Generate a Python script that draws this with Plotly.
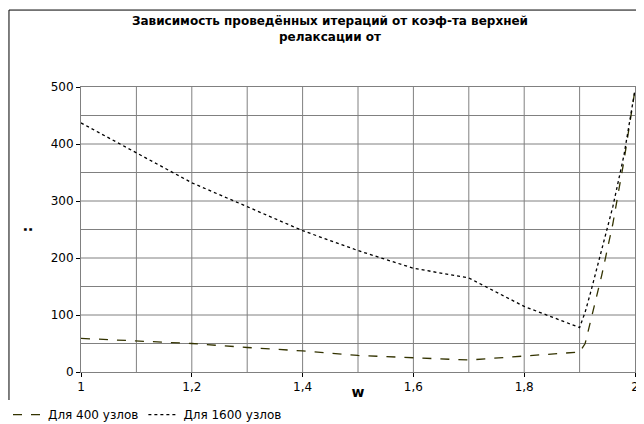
import plotly.graph_objects as go

x400 = [1.0, 1.1, 1.2, 1.3, 1.4, 1.5, 1.6, 1.7, 1.8, 1.9, 1.91, 1.92, 1.94, 1.96, 1.98, 2.0]
y400 = [59, 55, 50, 43, 37, 29, 25, 21, 28, 35, 50, 90, 170, 260, 370, 495]
x1600 = [1.0, 1.1, 1.2, 1.3, 1.4, 1.5, 1.6, 1.7, 1.8, 1.9, 1.91, 1.92, 1.94, 1.96, 1.98, 2.0]
y1600 = [437, 385, 332, 290, 248, 213, 182, 165, 115, 78, 105, 140, 215, 290, 380, 495]

fig = go.Figure()
fig.add_trace(go.Scatter(x=x400, y=y400, mode="lines", name="Для 400 узлов",
                         line=dict(color="#333300", width=1.3, dash="dash")))
fig.add_trace(go.Scatter(x=x1600, y=y1600, mode="lines", name="Для 1600 узлов",
                         line=dict(color="black", width=1.3, dash="dot")))

fig.update_layout(
    width=644, height=424, autosize=False, paper_bgcolor="white", plot_bgcolor="white",
    font=dict(family="DejaVu Sans", size=12, color="black"),
    title=dict(text="<b>Зависимость проведённых итераций от коэф-та верхней<br>релаксации от</b>",
               x=0.5, xanchor="center", yref="container", y=0.96, yanchor="top",
               font=dict(size=12)),
    margin=dict(l=73, r=17, t=79, b=60, autoexpand=False),
    showlegend=True,
    legend=dict(orientation="h", xref="container", x=0.0, yref="container", y=0.075,
                xanchor="left", yanchor="top", font=dict(size=12), tracegroupgap=0,
                itemwidth=30),
    xaxis=dict(range=[1, 2], tickvals=[1, 1.2, 1.4, 1.6, 1.8, 2],
               ticktext=["1", "1,2", "1,4", "1,6", "1,8", "2"],
               showgrid=False, showline=True, linecolor="gray", mirror=True,
               ticks="outside", ticklen=4, tickcolor="black", automargin=False,
               title=dict(text="<b>w</b>", standoff=8), zeroline=False),
    yaxis=dict(range=[0, 500], tickvals=[0, 100, 200, 300, 400, 500],
               showgrid=False, showline=True, linecolor="gray", mirror=True,
               ticks="outside", ticklen=4, tickcolor="black", automargin=False,
               title=dict(text="<b>:</b>", standoff=14), zeroline=False),
)
for v in range(50, 500, 50):
    fig.add_shape(type="line", xref="paper", yref="y", x0=0, x1=1, y0=v, y1=v,
                  line=dict(color="gray", width=1), layer="below")
for i in range(1, 10):
    fig.add_shape(type="line", xref="x", yref="paper", x0=1 + i / 10, x1=1 + i / 10, y0=0, y1=1,
                  line=dict(color="gray", width=1), layer="below")
fig.add_shape(type="rect", xref="paper", yref="paper", x0=-0.13, x1=1.028, y0=-0.215, y1=1.27,
              line=dict(color="black", width=1))
fig.write_html("out.html")
